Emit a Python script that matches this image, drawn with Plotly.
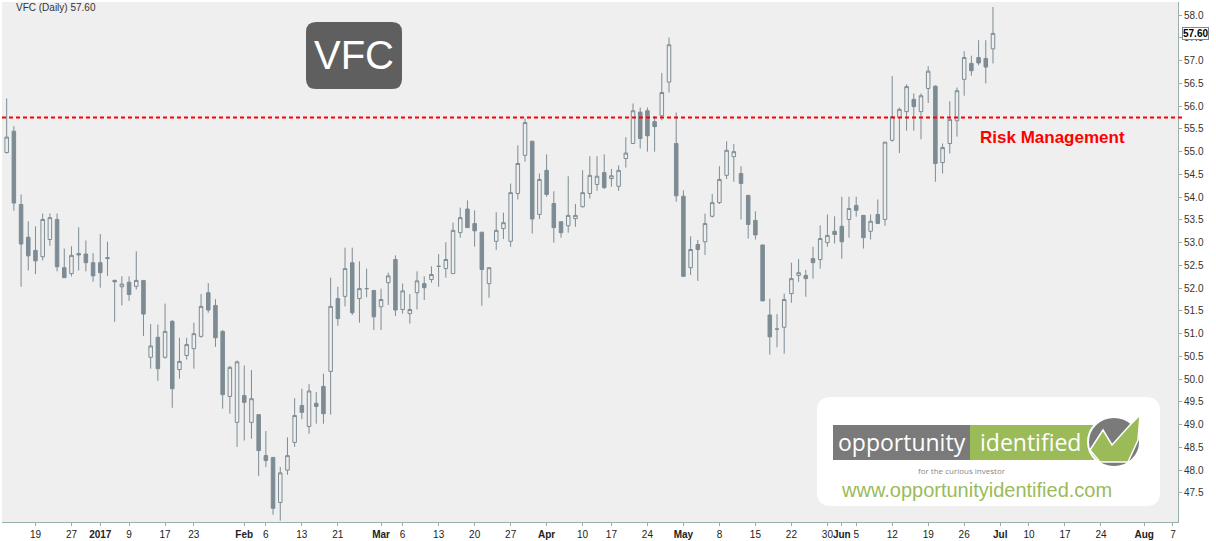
import pandas as pd
import plotly.graph_objects as go

holidays = ["2016-12-26", "2017-01-02", "2017-01-16", "2017-02-20", "2017-04-14", "2017-05-29", "2017-07-04"]
all_days = [d for d in pd.bdate_range("2016-12-13", "2017-08-10") if d.strftime("%Y-%m-%d") not in holidays]

opens = [54.98,55.45,53.84,53.12,52.83,52.69,53.07,53.51,52.45,52.32,52.76,52.75,52.56,52.56,52.65,52.17,52.03,52.13,52.04,52.17,
         50.48,50.92,50.48,51.27,50.21,50.52,50.67,50.94,51.90,51.62,51.05,49.62,49.05,49.64,49.05,49.22,48.32,48.28,47.29,48.00,
         48.61,49.42,48.96,49.47,49.84,50.17,51.77,51.82,52.56,51.77,51.99,51.95,51.59,52.12,52.63,51.53,51.44,51.90,52.10,52.19,
         52.48,52.43,52.32,53.22,53.74,53.42,53.23,52.10,53.03,53.31,53.03,54.08,54.92,55.23,53.62,54.59,53.86,53.46,53.37,53.53,
         53.79,54.08,54.28,54.54,54.41,54.24,54.85,55.18,55.87,55.90,55.66,55.79,56.53,55.18,54.02,52.45,52.96,53.02,53.58,53.88,
         54.48,54.89,54.52,54.04,53.49,52.95,51.41,51.10,51.14,51.88,52.28,52.28,52.65,52.63,53.00,53.25,53.36,53.51,53.82,53.60,
         53.25,53.62,53.51,55.25,55.75,55.88,56.15,55.88,56.39,56.44,54.76,55.18,55.68,56.59,56.94,57.07,57.05,57.26]
highs = [56.17,55.56,54.06,53.47,53.36,53.64,53.64,53.64,52.87,52.92,53.34,53.05,52.77,53.19,53.02,52.19,52.26,52.26,52.81,52.17,
         51.21,51.20,51.66,51.30,50.91,50.91,51.24,51.87,52.11,51.76,51.08,50.29,50.41,50.30,50.20,49.22,48.86,48.28,48.07,48.72,
         49.58,49.79,49.89,49.72,50.12,52.23,52.03,52.89,52.89,52.59,52.43,51.95,51.99,52.34,52.72,52.10,51.87,52.37,52.26,52.48,
         52.75,53.01,53.44,53.77,53.93,53.71,53.23,52.45,53.67,53.66,54.30,55.14,55.73,55.23,54.52,54.94,54.13,53.46,54.46,53.85,
         54.59,54.90,54.90,54.94,54.62,54.70,55.32,56.06,55.97,55.97,55.78,56.73,57.51,55.86,54.15,53.14,53.06,53.64,54.07,54.68,
         55.23,55.17,54.68,54.04,53.69,52.95,51.77,51.43,51.88,52.56,52.64,52.40,52.91,53.38,53.62,53.58,54.01,54.01,54.01,53.60,
         53.62,53.95,55.21,56.66,55.97,56.48,56.28,56.28,56.88,56.46,55.18,56.11,56.41,57.21,57.11,57.45,57.45,58.18]
lows = [54.96,53.70,52.03,52.39,52.31,52.61,52.93,52.37,52.23,52.26,52.39,52.37,52.14,52.01,52.27,51.26,51.62,51.72,51.97,50.95,
        50.23,49.96,50.45,49.37,50.01,50.43,50.23,50.91,51.46,50.71,49.35,49.24,48.51,48.65,48.69,47.87,48.07,47.02,46.89,47.90,
        48.51,49.12,48.80,49.02,49.02,49.22,51.17,51.60,51.41,51.24,51.80,51.08,51.08,51.63,51.39,51.44,51.22,51.53,51.74,52.12,
        52.03,52.23,52.32,53.11,53.33,52.91,51.61,51.79,52.84,53.08,52.91,53.95,54.78,53.20,53.52,54.01,53.00,53.11,53.22,53.35,
        53.77,53.97,54.14,54.18,54.23,54.14,54.65,55.18,55.07,55.00,55.00,55.69,56.30,53.90,52.25,52.29,52.16,52.73,53.55,53.85,
        54.40,54.34,53.51,53.09,53.07,51.72,50.54,50.70,50.56,51.68,52.14,51.81,52.21,52.43,52.91,52.98,52.65,53.11,53.57,52.87,
        53.07,53.42,53.37,55.22,54.97,55.46,55.46,55.27,56.07,54.34,54.52,54.96,55.33,56.23,56.67,56.90,56.50,56.94]
closes = [55.32,53.87,52.97,52.71,52.60,53.51,53.55,52.47,52.23,52.72,52.73,52.56,52.27,52.34,52.67,52.14,52.09,51.86,52.17,51.43,
          50.73,50.23,51.05,49.79,50.39,50.76,51.00,51.60,51.52,50.91,49.66,50.26,50.38,49.49,49.57,48.43,48.21,47.16,47.94,48.32,
          49.20,49.27,49.74,49.40,49.24,51.60,51.33,52.43,51.46,51.99,51.99,51.37,51.75,52.27,51.52,51.94,51.53,52.16,52.01,52.30,
          52.48,52.63,53.27,53.55,53.33,53.26,52.41,52.45,53.27,53.44,54.10,54.74,55.64,53.52,54.39,54.06,53.33,53.22,53.60,53.60,
          54.10,54.48,54.46,54.21,54.47,54.59,54.97,55.90,55.29,55.35,55.55,56.30,57.35,54.03,52.26,52.85,52.85,53.42,53.88,54.39,
          55.03,55.00,54.30,53.40,53.17,51.72,50.93,51.10,51.75,52.21,52.34,52.21,52.56,53.09,53.16,53.18,53.02,53.75,53.71,53.11,
          53.47,53.42,55.21,55.77,55.93,56.43,55.99,56.23,56.77,54.74,55.09,55.71,56.34,57.07,56.78,56.95,56.86,57.60]
risk_level = 55.75
last_price = 57.60
tick_dates = ["2016-12-19","2016-12-27","2017-01-03","2017-01-09","2017-01-17","2017-01-23","2017-02-01","2017-02-06",
              "2017-02-13","2017-02-21","2017-03-01","2017-03-06","2017-03-13","2017-03-20","2017-03-27","2017-04-03",
              "2017-04-10","2017-04-17","2017-04-24","2017-05-01","2017-05-08","2017-05-15","2017-05-22","2017-05-30",
              "2017-06-01","2017-06-05","2017-06-12","2017-06-19","2017-06-26","2017-07-03","2017-07-10","2017-07-17",
              "2017-07-24","2017-08-01","2017-08-07"]
tick_labels = ["19","27","<b>2017</b>","9","17","23","<b>Feb</b>","6","13","21","<b>Mar</b>","6","13","20","27","<b>Apr</b>",
               "10","17","24","<b>May</b>","8","15","22","30","<b>Jun</b>","5","12","19","26","<b>Jul</b>","10","17","24","<b>Aug</b>","7"]

day_index = {d.strftime("%Y-%m-%d"): i for i, d in enumerate(all_days)}
xs = list(range(len(opens)))
tickvals = [day_index[d] for d in tick_dates]

GREY = "#7d8c94"
BG = "#efefef"
fig = go.Figure()
fig.add_trace(go.Candlestick(
    x=xs, open=opens, high=highs, low=lows, close=closes,
    increasing=dict(line=dict(color=GREY, width=1), fillcolor=BG),
    decreasing=dict(line=dict(color=GREY, width=1), fillcolor=GREY),
    whiskerwidth=0, showlegend=False, hoverinfo="skip"))

L, R, T, B = 2, 38, 2, 19
W, H = 1216, 541
pw, ph = W - L - R, H - T - B
def px(X): return (X - L) / pw
def py(Y): return 1 - (Y - T) / ph

def rrect(x0, y0, x1, y1, r):
    a0, a1 = px(x0), px(x1)
    b0, b1 = py(y0), py(y1)
    rx, ry = r / pw, r / ph
    return (f"M{a0+rx},{b0} L{a1-rx},{b0} Q{a1},{b0} {a1},{b0-ry} L{a1},{b1+ry} Q{a1},{b1} {a1-rx},{b1} "
            f"L{a0+rx},{b1} Q{a0},{b1} {a0},{b1+ry} L{a0},{b0-ry} Q{a0},{b0} {a0+rx},{b0} Z")

shapes = [
    dict(type="line", xref="paper", yref="y", x0=0, x1=1.006, y0=risk_level, y1=risk_level,
         line=dict(color="#ff0000", width=2, dash="4px,3px")),
    dict(type="path", xref="paper", yref="paper", path=rrect(306, 22, 402, 89, 10),
         fillcolor="#5f5f5f", line=dict(width=0)),
    dict(type="path", xref="paper", yref="paper", path=rrect(817, 397, 1160, 506, 14),
         fillcolor="#ffffff", line=dict(width=0)),
    dict(type="rect", xref="paper", yref="paper", x0=px(833), x1=px(970), y0=py(460), y1=py(425),
         fillcolor="#7a7a7a", line=dict(width=0)),
    dict(type="rect", xref="paper", yref="paper", x0=px(970), x1=px(1095), y0=py(460), y1=py(425),
         fillcolor="#9bbb59", line=dict(width=0)),
    dict(type="circle", xref="paper", yref="paper", x0=px(1088), x1=px(1140), y0=py(467), y1=py(417),
         fillcolor="#7a7a7a", line=dict(color="#ffffff", width=2)),
    dict(type="path", xref="paper", yref="paper",
         path=f"M{px(1090)},{py(450)} L{px(1103)},{py(430)} L{px(1112)},{py(445)} L{px(1130)},{py(425)} L{px(1140)},{py(415)} L{px(1138)},{py(440)} L{px(1128)},{py(462)} L{px(1100)},{py(462)} Z",
         fillcolor="#9bbb59", line=dict(color="#ffffff", width=1.5)),
]

def ann(X, Y, text, size, color, family="Arial, Liberation Sans", xanchor="center"):
    return dict(xref="paper", yref="paper", x=px(X), y=py(Y), text=text, showarrow=False,
                xanchor=xanchor, yanchor="middle", font=dict(family=family, size=size, color=color))

annotations = [
    ann(354, 55, "VFC", 40, "#ffffff"),
    ann(978, 138, "<b>Risk Management</b>", 17, "#ff0000", xanchor="left"),
    ann(14, 8, "VFC (Daily) 57.60", 10, "#333333", xanchor="left"),
    dict(xref="paper", yref="y", x=1.003, y=last_price, text="<b>57.60</b>", showarrow=False, xanchor="left",
         yanchor="middle", bgcolor="#ffffff", bordercolor="#7a8a90", borderwidth=1, borderpad=0,
         font=dict(family="Arial, Liberation Sans", size=10, color="#000000")),
    ann(902, 442, "opportunity", 23, "#ffffff", family="Open Sans, Arial"),
    ann(1030, 442, "identified", 23, "#ffffff", family="Open Sans, Arial"),
    ann(962, 470, "for the curious investor", 8, "#888888", family="Open Sans, Arial"),
    ann(976, 490, "www.opportunityidentified.com", 20, "#9bbb59"),
]

fig.update_layout(
    width=W, height=H, margin=dict(l=L, r=R, t=T, b=B, autoexpand=False),
    paper_bgcolor="#ffffff", plot_bgcolor=BG,
    shapes=shapes, annotations=annotations,
    xaxis=dict(range=[-0.65, 162.7], tickvals=tickvals, ticktext=tick_labels, rangeslider=dict(visible=False),
               showgrid=False, zeroline=False, showline=True, linecolor="#9aaeaa", ticks="outside", ticklen=3,
               tickcolor="#9aaeaa", tickangle=0, automargin=False,
               tickfont=dict(family="Arial, Liberation Sans", size=10, color="#222222")),
    yaxis=dict(range=[46.86, 58.29], side="right", tickvals=[47.5 + 0.5 * i for i in range(22)],
               ticktext=[f"{47.5 + 0.5 * i:.1f}" for i in range(22)], showgrid=False, zeroline=False,
               showline=True, linecolor="#9aaeaa", ticks="outside", ticklen=3, tickcolor="#9aaeaa",
               automargin=False, tickfont=dict(family="Arial, Liberation Sans", size=10, color="#333333")),
)
fig.write_html("out.html", config={"displayModeBar": False})
with open("out.html", encoding="utf-8") as f:
    page = f.read()
page = page.replace("<head>", "<head><style>html,body{margin:0;padding:0;overflow:hidden;}</style>", 1)
with open("out.html", "w", encoding="utf-8") as f:
    f.write(page)
